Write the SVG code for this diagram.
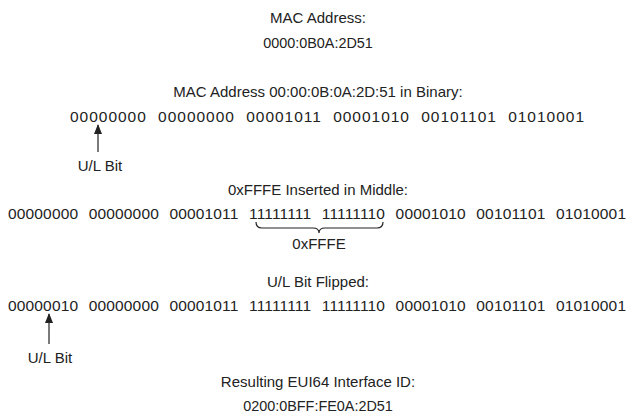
<svg xmlns="http://www.w3.org/2000/svg" width="635" height="419" viewBox="0 0 635 419">
<style>
text{font-family:"Liberation Sans",Arial,sans-serif;fill:#222;text-anchor:middle}
.h{font-size:15px}
.v{font-size:15.5px;word-spacing:6px}
.s{font-size:14.4px}
.ln{stroke:#222;stroke-width:1.2;fill:none}
</style>
<defs><marker id="ah" markerWidth="10" markerHeight="8" refX="9" refY="4" orient="auto" markerUnits="userSpaceOnUse"><path d="M0,0 L10,4 L0,8 Z" fill="#222"/></marker></defs>
<rect width="635" height="419" fill="#fff"/>
<g id="mac"><text class="h" x="318" y="23">MAC Address:</text><text class="s" x="318" y="48">0000:0B0A:2D51</text></g>
<g id="binary"><text class="h" x="318" y="97">MAC Address 00:00:0B:0A:2D:51 in Binary:</text>
<text class="v" x="327" y="122" textLength="514" lengthAdjust="spacing">00000000 00000000 00001011 00001010 00101101 01010001</text></g>
<g id="ul1"><text class="h" x="100" y="171">U/L Bit</text></g>
<g id="inserted"><text class="h" x="318" y="195">0xFFFE Inserted in Middle:</text>
<text class="v" x="317" y="219" textLength="618" lengthAdjust="spacing">00000000 00000000 00001011 11111111 11111110 00001010 00101101 01010001</text>
<text class="h" x="319" y="249">0xFFFE</text></g>
<g id="flipped"><text class="h" x="318" y="287">U/L Bit Flipped:</text>
<text class="v" x="317" y="311" textLength="618" lengthAdjust="spacing">00000010 00000000 00001011 11111111 11111110 00001010 00101101 01010001</text></g>
<g id="ul2"><text class="h" x="50" y="363">U/L Bit</text></g>
<g id="result"><text class="h" x="318" y="387">Resulting EUI64 Interface ID:</text><text class="s" x="318" y="411">0200:0BFF:FE0A:2D51</text></g>
<g id="connectors">
<line class="ln" x1="98" y1="152" x2="98" y2="125" marker-end="url(#ah)"/>
<line class="ln" x1="49" y1="344" x2="49" y2="314" marker-end="url(#ah)"/>
<path class="ln" d="M256,222 Q256,228 262,228 L313,228 Q319,228 319,233 Q319,228 325,228 L377,228 Q383,228 383,222"/>
</g>
</svg>
